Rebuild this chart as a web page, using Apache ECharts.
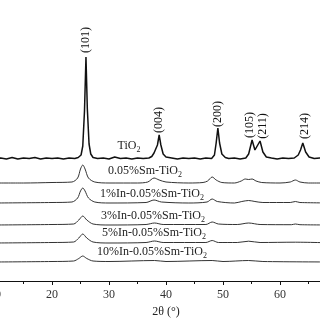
<!DOCTYPE html>
<html>
<head>
<meta charset="utf-8">
<script src="https://cdn.jsdelivr.net/npm/echarts@6/dist/echarts.min.js"></script>
<style>
  html, body { margin: 0; padding: 0; background: #fff; }
  #main { width: 320px; height: 320px; }
</style>
</head>
<body>
<div id="main"></div>
<script>
// 2theta ticks
var xTicks = [10, 20, 30, 40, 50, 60, 70];

// stacked XRD traces, [2theta, intensity(a.u., offset included)]
var tio2 = [[10,122],[11,123],[12,122],[13,123.5],[14,122],[15,123],[16,122.5],[17,123.5],[18,122],[19,123],[20,122.5],[21,123],[22,122],[23,123],[24,122.5],[24.6,123.5],[25.1,126],[25.4,135],[25.7,170],[25.96,224],[26.2,172],[26.5,137],[26.8,127],[27.2,123.5],[28,122.5],[29,123],[30,122],[31,124],[32,122.5],[33,123],[34,122],[35,123],[36,122.5],[37,123],[37.5,124.5],[37.9,128],[38.2,127],[38.5,136],[38.8,146],[39.1,136],[39.5,127],[40,124],[41,123],[42,122],[43,123],[44,122.5],[45,123],[46,122],[47,123],[48,122.5],[48.5,126],[48.8,138],[49.1,153],[49.4,138],[49.8,127],[50.4,123.5],[51,122.5],[52,123],[53,122],[54,123],[54.5,127],[55.1,141],[55.6,131],[55.9,130],[56.5,140],[57.0,129],[57.6,124],[58.5,123],[59.5,122],[60.5,123],[61.5,122.5],[62.5,123],[63.2,126],[63.6,131],[64.0,138],[64.5,129],[65.1,124],[66,122.5],[67,123],[68,122.5],[70,122]];
var sm005 = [[10,98],[15,98],[20,98.5],[23.5,99],[24.5,103],[25.0,112],[25.4,116],[25.8,112],[26.4,103],[27.5,99],[30,98],[35,98],[36.8,99],[37.9,103],[38.8,101],[40,99],[44,98],[46.5,98.5],[47.3,100],[48.1,104],[48.8,101],[49.8,98.5],[52,98],[53.2,100],[53.9,102],[54.5,101.5],[55.1,102],[55.8,100],[56.8,98.5],[60,98],[61.8,99],[62.7,101],[63.5,99],[65,98],[70,98]];
var in1 = [[10,78],[20,78.5],[23.5,79],[24.5,83],[25.0,90],[25.4,93],[25.8,90],[26.4,83],[27.5,79],[30,78],[36.5,78.5],[37.9,81],[39.2,79],[44,78],[47.2,79],[48.1,82],[49,79.5],[52,78],[53.3,79.5],[54.5,80.5],[55.6,79.5],[57,78.5],[61.8,78.5],[62.7,79.5],[63.5,78.5],[70,78]];
var in3 = [[10,56],[20,56.5],[23.8,57],[24.7,61],[25.4,65],[26.1,61],[27.2,57],[30,56],[36.5,56.5],[38,58],[39.5,56.5],[47,56.5],[48.1,59],[49.2,57],[52.5,56.5],[54.5,58],[56.5,56.5],[62,56.3],[62.7,57],[63.5,56.3],[70,56]];
var in5 = [[10,38],[20,38.5],[23.8,39],[24.7,43],[25.4,47],[26.1,43],[27.2,39],[30,38],[36.5,38.5],[38,40],[39.5,38.5],[47,38.5],[48.1,40.5],[49.2,38.5],[52.5,38.5],[54.5,39.8],[56.5,38.5],[62.7,38.8],[70,38]];
var in10 = [[10,19],[20,19.5],[23.8,20],[24.7,22.5],[25.4,25],[26.1,22.5],[27.2,20],[30,19.5],[38,20.5],[40,19.5],[48.1,20.5],[50,19.5],[54.5,20.5],[57,19.5],[70,19]];

var peakNames = ['(101)', '(004)', '(200)', '(105)', '(211)', '(214)'];
var sampleNames = ['TiO{s|2}', '0.05%Sm-TiO{s|2}', '1%In-0.05%Sm-TiO{s|2}', '3%In-0.05%Sm-TiO{s|2}', '5%In-0.05%Sm-TiO{s|2}', '10%In-0.05%Sm-TiO{s|2}'];

var chart = echarts.init(document.getElementById('main'), null, {renderer: 'canvas'});
var FONT = '"Liberation Serif", "DejaVu Serif", serif';

function line(data, color, width, smooth) {
  return {
    type: 'line',
    data: data,
    showSymbol: false,
    smooth: smooth,
    lineStyle: {color: color, width: width},
    animation: false
  };
}

// label positions (px)
var peakPos = [[86, 40], [159, 120], [218, 114], [250, 125], [263, 126], [305, 126]];
var samplePos = [[129, 146], [145, 171], [152, 194], [153, 216], [154, 233], [152, 252]];

var graphics = [];
peakNames.forEach(function (t, i) {
  graphics.push({
    type: 'text', x: peakPos[i][0], y: peakPos[i][1], rotation: Math.PI / 2,
    style: {text: t, font: '12px ' + FONT, fill: '#111', align: 'center', verticalAlign: 'middle'}
  });
});
sampleNames.forEach(function (t, i) {
  graphics.push({
    type: 'text', x: samplePos[i][0], y: samplePos[i][1],
    style: {
      text: t, font: '12px ' + FONT, fill: '#222', align: 'center', verticalAlign: 'middle',
      rich: {s: {fontSize: 8, fontFamily: FONT, fill: '#222', padding: [8, 0, 0, 0]}}
    }
  });
});

var option = {
  backgroundColor: '#fff',
  animation: false,
  grid: {left: -5, right: -17, top: 0, bottom: 39, outerBoundsMode: 'none', containLabel: false},
  xAxis: {
    type: 'value',
    min: xTicks[0],
    max: xTicks[xTicks.length - 1],
    interval: 10,
    name: '2θ (°)',
    nameLocation: 'middle',
    nameGap: 25,
    nameTextStyle: {fontFamily: FONT, fontSize: 12, color: '#222'},
    axisLine: {lineStyle: {color: '#111', width: 1}},
    axisTick: {length: 4, lineStyle: {color: '#111'}},
    minorTick: {show: true, splitNumber: 2, length: 3, lineStyle: {color: '#111'}},
    axisLabel: {fontFamily: FONT, fontSize: 12, color: '#333', margin: 8},
    splitLine: {show: false}
  },
  yAxis: {
    type: 'value', min: 0, max: 281, show: false, splitLine: {show: false}
  },
  series: [
    line(tio2, '#111', 1.5, false),
    line(sm005, '#333', 1, 0.3),
    line(in1, '#333', 1, 0.3),
    line(in3, '#333', 1, 0.3),
    line(in5, '#333', 1, 0.3),
    line(in10, '#333', 1, 0.3)
  ],
  graphic: graphics
};

chart.setOption(option);
</script>
</body>
</html>
